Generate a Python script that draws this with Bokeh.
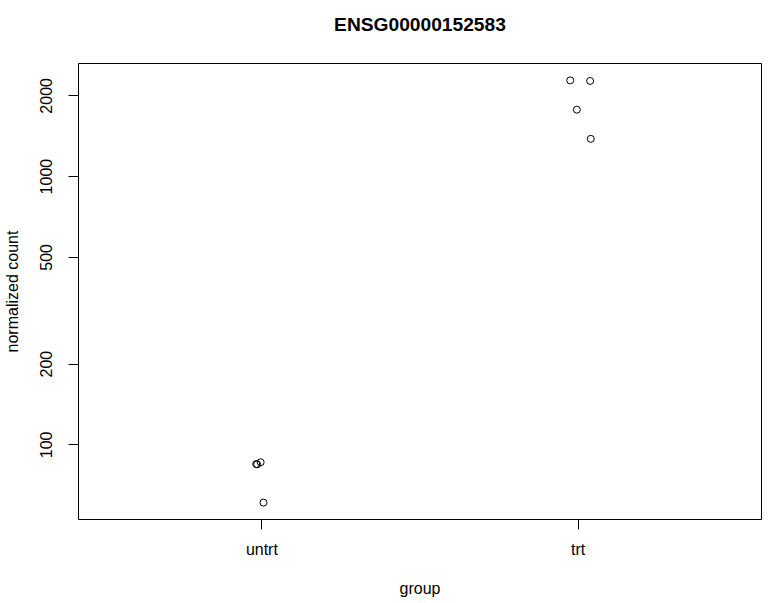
from bokeh.plotting import figure
from bokeh.models import Range1d, FixedTicker, ColumnDataSource
from bokeh.embed import file_html
from bokeh.resources import INLINE
import numpy as np

# ---- data ----
title_text = "ENSG00000152583"
group_levels = ["untrt", "trt"]
sample_group = ["untrt", "untrt", "untrt", "untrt", "trt", "trt", "trt", "trt"]
jitter = [-0.018, -0.015, -0.004, 0.005, -0.025, 0.038, -0.004, 0.040]
normalized_count = [84.8, 84.6, 86.1, 60.9, 2284.0, 2273.0, 1776.0, 1383.0]
y_ticks = [100, 200, 500, 1000, 2000]

# ---- derived positions ----
xpos = [group_levels.index(g) + 1 + j for g, j in zip(sample_group, jitter)]
src = ColumnDataSource(dict(x=xpos, y=normalized_count))

# R-style 4% axis extension
x_lo, x_hi = 0.5, len(group_levels) + 0.5
xr = x_hi - x_lo
ly = np.log10(normalized_count)
ly_lo, ly_hi = ly.min(), ly.max()
lyr = ly_hi - ly_lo

FONT = "Liberation Sans"

p = figure(width=768, height=603, output_backend="svg", toolbar_location=None,
           y_axis_type="log",
           x_range=Range1d(x_lo - 0.04 * xr, x_hi + 0.04 * xr),
           y_range=Range1d(10 ** (ly_lo - 0.04 * lyr), 10 ** (ly_hi + 0.04 * lyr)),
           min_border_left=77, min_border_right=7, min_border_top=63, min_border_bottom=84)

p.title.text = title_text
p.title.text_font = FONT
p.title.text_font_size = "19.2px"
p.title.text_font_style = "bold"
p.title.align = "center"
p.title.standoff = 8
p.title.padding = dict(left=0, right=0, top=0, bottom=25)
p.title.text_color = "black"

p.scatter("x", "y", source=src, size=7, marker="circle", fill_color=None,
          line_color="black", line_width=1)

p.xgrid.visible = False
p.ygrid.visible = False
p.outline_line_color = "black"
p.outline_line_width = 1
p.background_fill_color = "white"
p.border_fill_color = "white"

xa = p.xaxis[0]
xa.ticker = FixedTicker(ticks=[1, 2])
xa.major_label_overrides = {1: group_levels[0], 2: group_levels[1]}
xa.axis_label = "group"
xa.major_tick_out = 10
xa.major_tick_in = 0
xa.minor_tick_line_color = None
xa.axis_line_color = None
xa.major_label_standoff = 11
xa.axis_label_standoff = 19

ya = p.yaxis[0]
ya.ticker = FixedTicker(ticks=y_ticks)
ya.major_label_overrides = {t: str(t) for t in y_ticks}
ya.axis_label = "normalized count"
ya.major_tick_out = 10
ya.major_tick_in = 0
ya.minor_tick_line_color = None
ya.axis_line_color = None
ya.major_label_orientation = "vertical"
ya.major_label_standoff = 16
ya.axis_label_standoff = 17

for ax in (xa, ya):
    ax.major_tick_line_color = "black"
    ax.major_label_text_font = FONT
    ax.major_label_text_font_size = "16px"
    ax.major_label_text_color = "black"
    ax.axis_label_text_font = FONT
    ax.axis_label_text_font_size = "16px"
    ax.axis_label_text_font_style = "normal"
    ax.axis_label_text_color = "black"

open("out.html", "w").write(file_html(p, INLINE))
